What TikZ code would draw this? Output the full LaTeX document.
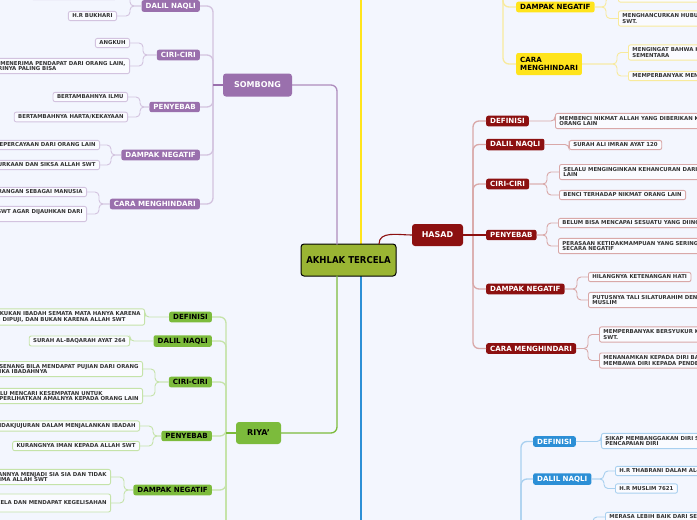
\documentclass[tikz,border=0pt]{standalone}
\usepackage{fontspec}
\setmainfont{DejaVu Sans}
\newfontfamily\cfont{DejaVu Sans Condensed}
\definecolor{bg}{HTML}{F3F6FE}
\definecolor{pu}{HTML}{9A70AD}\definecolor{puL}{HTML}{D3C3DF}
\definecolor{rd}{HTML}{8C1010}\definecolor{rdL}{HTML}{D9A8A8}
\definecolor{gr}{HTML}{7CBB3C}\definecolor{grL}{HTML}{C5E3A9}
\definecolor{ye}{HTML}{FFE41C}\definecolor{yeL}{HTML}{F8EA9C}
\definecolor{bl}{HTML}{2C8FD6}\definecolor{blL}{HTML}{A9D0EF}
\definecolor{ol}{HTML}{9AB533}
\definecolor{tx}{HTML}{333333}
\tikzset{
 leaf/.style={draw, line width=0.9pt, fill=white!60!bg, rounded corners=2pt, font=\bfseries\fontsize{5.4}{5.9}\selectfont, text=tx, align=left, inner xsep=4pt, inner ysep=2.6pt},
 br/.style={rounded corners=2pt, font=\bfseries\fontsize{7.1}{7.8}\selectfont, inner xsep=4pt, inner ysep=2.6pt, align=left},
 lP/.style={leaf,draw=puL}, lR/.style={leaf,draw=rdL}, lG/.style={leaf,draw=grL}, lY/.style={leaf,draw=yeL}, lB/.style={leaf,draw=blL},
 bP/.style={br,fill=pu,text=white}, bR/.style={br,fill=rd,text=white}, bG/.style={br,fill=gr,text=black}, bY/.style={br,fill=ye,text=black}, bB/.style={br,fill=bl,text=white},
 cn/.style={line width=0.9pt, rounded corners=4pt},
 sp/.style={line width=1.3pt, rounded corners=6pt},
}
\newcommand\lconn[4]{\path (#3,0) coordinate (tmpx); \draw[#4, cn] (#1) -- (tmpx |- #1) |- (#2);}
\begin{document}
\begin{tikzpicture}[x=1pt,y=-1pt]
\fill[bg] (0,0) rectangle (697,520);
\clip (0,0) rectangle (697,520);
\useasboundingbox (0,0) rectangle (697,520);
% main vertical lines
\draw[ye, line width=1.6pt] (361,-10) -- (361,250);
\draw[bl, line width=1.6pt] (361,270) -- (361,530);
% center
\node[draw=black, line width=1pt, fill=ol, rounded corners=3pt, minimum width=95pt, minimum height=32pt, font=\cfont\bfseries\fontsize{9.5}{10}\selectfont] (c) at (348.5,260) {AKHLAK TERCELA};
% main topics
\node[bP, font=\bfseries\fontsize{8}{9}\selectfont, minimum width=69pt, minimum height=23pt, rounded corners=3pt] (som) at (257.5,85) {SOMBONG};
\node[bR, font=\bfseries\fontsize{8}{9}\selectfont, minimum width=51pt, minimum height=22pt, rounded corners=3pt] (has) at (437.5,235) {HASAD};
\node[bG, font=\bfseries\fontsize{8}{9}\selectfont, minimum width=45pt, minimum height=22pt, rounded corners=3pt] (riy) at (258.5,433) {RIYA'};
\draw[pu!80, sp] (som.east) -- (337,85) -- (337,244.5);
\draw[gr, sp] (337,275.5) -- (337,433) -- (riy.east);
\draw[rd, line width=1.1pt] (379,244) to[out=90,in=180] (has.west);
% ---------- SOMBONG ----------
\node[bP, anchor=east] (sd) at (200,6) {DALIL NAQLI};
\node[bP, anchor=east] (sc) at (200,55) {CIRI-CIRI};
\node[bP, anchor=east] (sp) at (200,107) {PENYEBAB};
\node[bP, anchor=east] (sn) at (200,155) {DAMPAK NEGATIF};
\node[bP, anchor=east] (sm) at (200,204) {CARA MENGHINDARI};
\foreach \n in {sd,sc,sp,sn,sm}{\draw[puL, sp] (\n.east) -| (213,85);}
\draw[pu, line width=1.3pt] (213,85) -- (som.west);
\node[lP, anchor=east] (sd1) at (117,-5) {HADITS RIWAYAT MUSLIM};
\node[lP, anchor=east] (sd2) at (117,16) {H.R BUKHARI};
\node[lP, anchor=east] (sc1) at (130,43) {ANGKUH};
\node[lP, anchor=east] (sc2) at (130,66) {TIDAK MAU MENERIMA PENDAPAT DARI ORANG LAIN,\\MERASA DIRINYA PALING BISA};
\node[lP, anchor=east] (sp1) at (128,97) {BERTAMBAHNYA ILMU};
\node[lP, anchor=east] (sp2) at (128,117) {BERTAMBAHNYA HARTA/KEKAYAAN};
\node[lP, anchor=east] (sn1) at (100,145) {HILANGNYA KEPERCAYAAN DARI ORANG LAIN};
\node[lP, anchor=east] (sn2) at (100,165) {MENDAPAT KEMURKAAN DAN SIKSA ALLAH SWT};
\node[lP, anchor=east] (sm1) at (87,192) {MENYADARI KEKURANGAN SEBAGAI MANUSIA};
\node[lP, anchor=east] (sm2) at (87,214) {BERDOA KEPADA ALLAH SWT AGAR DIJAUHKAN DARI\\SIFAT SOMBONG};
\foreach \b/\l/\x in {sd/sd1/130,sd/sd2/130,sc/sc1/143,sc/sc2/143,sp/sp1/140,sp/sp2/140,sn/sn1/111,sn/sn2/111,sm/sm1/99,sm/sm2/99}{\lconn{\b.west}{\l.east}{\x}{puL}}
% ---------- RIYA ----------
\node[bG, anchor=east] (rd) at (212,317) {DEFINISI};
\node[bG, anchor=east] (rn) at (212,341) {DALIL NAQLI};
\node[bG, anchor=east] (rc) at (212,382) {CIRI-CIRI};
\node[bG, anchor=east] (rp) at (212,436) {PENYEBAB};
\node[bG, anchor=east] (rdn) at (212,490) {DAMPAK NEGATIF};
\draw[grL, sp] (226,530) -- (226,433);
\foreach \n in {rd,rn,rc,rp,rdn}{\draw[grL, sp] (\n.east) -| (226,433);}
\draw[gr, line width=1.3pt] (226,433) -- (riy.west);
\node[lG, anchor=east] (rd1) at (145,317) {MELAKUKAN IBADAH SEMATA MATA HANYA KARENA\\INGIN DIPUJI, DAN BUKAN KARENA ALLAH SWT};
\node[lG, anchor=east] (rn1) at (130,341) {SURAH AL-BAQARAH AYAT 264};
\node[lG, anchor=east] (rc1) at (143,369) {MERASA SENANG BILA MENDAPAT PUJIAN DARI ORANG\\LAIN KETIKA IBADAHNYA};
\node[lG, anchor=east] (rc2) at (143,396) {SELALU MENCARI KESEMPATAN UNTUK\\MEMPERLIHATKAN AMALNYA KEPADA ORANG LAIN};
\node[lG, anchor=east] (rp1) at (140,426) {KETIDAKJUJURAN DALAM MENJALANKAN IBADAH};
\node[lG, anchor=east] (rp2) at (140,446) {KURANGNYA IMAN KEPADA ALLAH SWT};
\node[lG, anchor=east] (rdn1) at (111,477) {AMALANNYA MENJADI SIA SIA DAN TIDAK\\DITERIMA ALLAH SWT};
\node[lG, anchor=east, minimum height=18pt] (rdn2) at (111,503) {HIDUPNYA TERCELA DAN MENDAPAT KEGELISAHAN};
\foreach \b/\l/\x in {rd/rd1/145,rn/rn1/130,rc/rc1/155,rc/rc2/155,rp/rp1/153,rp/rp2/153,rdn/rdn1/124,rdn/rdn2/124}{\lconn{\b.west}{\l.east}{\x}{grL}}
% ---------- HASAD ----------
\node[bR, anchor=west] (hd) at (486,121) {DEFINISI};
\node[bR, anchor=west] (hn) at (486,144.5) {DALIL NAQLI};
\node[bR, anchor=west] (hc) at (486,184) {CIRI-CIRI};
\node[bR, anchor=west] (hp) at (486,235) {PENYEBAB};
\node[bR, anchor=west] (hdn) at (486,289) {DAMPAK NEGATIF};
\node[bR, anchor=west] (hm) at (486,348.5) {CARA MENGHINDARI};
\foreach \n in {hd,hn,hc,hdn,hm}{\draw[rdL, sp] (\n.west) -| (473,235);}
\draw[rd, line width=1.3pt] (has.east) -- (hp.west);
\node[lR, anchor=west] (hd1) at (555,121) {MEMBENCI NIKMAT ALLAH YANG DIBERIKAN KEPADA\\ORANG LAIN};
\node[lR, anchor=west] (hn1) at (569,145) {SURAH ALI IMRAN AYAT 120};
\node[lR, anchor=west] (hc1) at (559,172) {SELALU MENGINGINKAN KEHANCURAN DARI ORANG\\LAIN};
\node[lR, anchor=west] (hc2) at (559,195) {BENCI TERHADAP NIKMAT ORANG LAIN};
\node[lR, anchor=west] (hp1) at (558,223) {BELUM BISA MENCAPAI SESUATU YANG DIINGINKAN};
\node[lR, anchor=west] (hp2) at (558,246) {PERASAAN KETIDAKMAMPUAN YANG SERING DIARTIKAN\\SECARA NEGATIF};
\node[lR, anchor=west] (hdn1) at (588,277) {HILANGNYA KETENANGAN HATI};
\node[lR, anchor=west] (hdn2) at (588,300) {PUTUSNYA TALI SILATURAHIM DENGAN SESAMA\\MUSLIM};
\node[lR, anchor=west] (hm1) at (599,334.5) {MEMPERBANYAK BERSYUKUR KEPADA ALLAH\\SWT.};
\node[lR, anchor=west] (hm2) at (599,360.5) {MENANAMKAN KEPADA DIRI BAHWA HASAD AKAN\\MEMBAWA DIRI KEPADA PENDERITAAN};
\foreach \b/\l/\x in {hd/hd1/555,hn/hn1/569,hc/hc1/547,hc/hc2/547,hp/hp1/547,hp/hp2/547,hdn/hdn1/577,hdn/hdn2/577,hm/hm1/588,hm/hm2/588}{\lconn{\b.east}{\l.west}{\x}{rdL}}
% ---------- yellow ----------
\node[bY, anchor=west] (yd) at (516,7) {DAMPAK NEGATIF};
\node[bY, anchor=west, minimum height=22pt] (ym) at (516,64) {CARA\\MENGHINDARI};
\coordinate (ytop) at (503,-10);
\draw[yeL, sp] (ytop) |- (yd.west);
\draw[yeL, sp] (ytop) |- (ym.west);
\node[lY, anchor=west] (yd1) at (618,-3) {MENJAUHKAN DIRI DARI ORANG LAIN};
\node[lY, anchor=west] (yd2) at (618,18.5) {MENGHANCURKAN HUBUNGAN DENGAN ALLAH\\SWT.};
\node[lY, anchor=west] (ym1) at (628,52.5) {MENGINGAT BAHWA KEHIDUPAN DI DUNIA HANYA\\SEMENTARA};
\node[lY, anchor=west] (ym2) at (628,76) {MEMPERBANYAK MENGINGAT ALLAH SWT};
\foreach \b/\l/\x in {yd/yd1/606,yd/yd2/606,ym/ym1/617,ym/ym2/617}{\lconn{\b.east}{\l.west}{\x}{yeL}}
% ---------- blue ----------
\node[bB, anchor=west] (bd) at (533,441.5) {DEFINISI};
\node[bB, anchor=west] (bn) at (533,479) {DALIL NAQLI};
\node[bB, anchor=west] (bc) at (533,527) {CIRI-CIRI};
\coordinate (bbot) at (521,530);
\draw[blL, sp] (bbot) |- (bd.west);
\draw[blL, sp] (bbot) |- (bn.west);
\node[lB, anchor=west] (bd1) at (601,441) {SIKAP MEMBANGGAKAN DIRI SENDIRI ATAS\\PENCAPAIAN DIRI};
\node[lB, anchor=west] (bn1) at (615,471) {H.R THABRANI DALAM AL-AUSATH};
\node[lB, anchor=west] (bn2) at (615,488.5) {H.R MUSLIM 7621};
\node[lB, anchor=west] (bc1) at (605,517) {MERASA LEBIH BAIK DARI SESAMA};
\foreach \b/\l/\x in {bd/bd1/601,bn/bn1/604,bn/bn2/604,bc/bc1/593}{\lconn{\b.east}{\l.west}{\x}{blL}}
\end{tikzpicture}
\end{document}
